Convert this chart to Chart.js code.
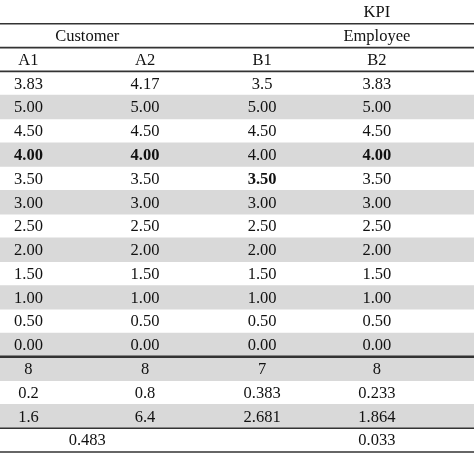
<!DOCTYPE html>
<html><head><meta charset="utf-8">
<script src="https://cdn.jsdelivr.net/npm/chart.js@4/dist/chart.umd.min.js"></script>
<style>html,body{margin:0;padding:0;background:#fff;}</style>
</head><body>
<canvas id="c" width="474" height="474"></canvas>
<script>
const rowLabels = ["KPI","Customer","Head","3.83","5.00","4.50","4.00","3.50","3.00","2.50","2.00","1.50","1.00","0.50","0.00","n","w","s","p"];
const shade = [null,null,null,null,1,null,1,null,1,null,1,null,1,null,1,1,null,1,null];
const colA1 = ["","","A1","3.83","5.00","4.50","4.00","3.50","3.00","2.50","2.00","1.50","1.00","0.50","0.00","8","0.2","1.6",""];
const colA2 = ["","","A2","4.17","5.00","4.50","4.00","3.50","3.00","2.50","2.00","1.50","1.00","0.50","0.00","8","0.8","6.4",""];
const colB1 = ["","","B1","3.5","5.00","4.50","4.00","3.50","3.00","2.50","2.00","1.50","1.00","0.50","0.00","7","0.383","2.681",""];
const colB2 = ["","","B2","3.83","5.00","4.50","4.00","3.50","3.00","2.50","2.00","1.50","1.00","0.50","0.00","8","0.233","1.864",""];
const spanLeft = ["","Customer","","","","","","","","","","","","","","","","","0.483"];
const spanRight = ["KPI","Employee","","","","","","","","","","","","","","","","","0.033"];
const boldA1 = [6], boldA2 = [6], boldB1 = [7], boldB2 = [6];
const ruleAfter = [0,1,2,14,17,18];
const thickRule = [14];

const tablePlugin = {
  id:'table',
  afterDatasetsDraw(chart){
    const ctx = chart.ctx, ys = chart.scales.y, area = chart.chartArea;
    const W = area.right - area.left;
    const step = ys.getPixelForValue(1) - ys.getPixelForValue(0);
    const cols = [[colA1,boldA1,0.06],[colA2,boldA2,0.306],[colB1,boldB1,0.553],[colB2,boldB2,0.795]];
    ctx.save();
    ctx.fillStyle = '#111';
    ctx.textBaseline = 'middle';
    ctx.textAlign = 'center';
    rowLabels.forEach((_, i) => {
      const y = ys.getPixelForValue(i) + 1;
      cols.forEach(([col,bold,fx]) => {
        if (!col[i]) return;
        ctx.font = (bold.includes(i) ? 'bold ' : '') + '16.5px "Liberation Serif"';
        ctx.fillText(col[i], area.left + fx*W, y);
      });
      ctx.font = '16.5px "Liberation Serif"';
      if (spanLeft[i]) ctx.fillText(spanLeft[i], area.left + 0.184*W, y);
      if (spanRight[i]) ctx.fillText(spanRight[i], area.left + 0.795*W, y);
    });
    ctx.strokeStyle = '#333';
    ruleAfter.forEach(i => {
      const y = ys.getPixelForValue(i) + step/2;
      ctx.lineWidth = thickRule.includes(i) ? 2.5 : 1.6;
      ctx.beginPath(); ctx.moveTo(area.left, y); ctx.lineTo(area.right, y); ctx.stroke();
    });
    ctx.restore();
  }
};

new Chart(document.getElementById('c'), {
  type:'bar',
  data:{ labels: rowLabels, datasets:[{ data: shade, backgroundColor:'#d9d9d9', borderWidth:0, barPercentage:1, categoryPercentage:1 }]},
  options:{
    indexAxis:'y', responsive:false, animation:false, devicePixelRatio:1,
    layout:{ padding:{ top:-2, bottom:22, left:0, right:0 } },
    plugins:{ legend:{display:false}, tooltip:{enabled:false} },
    scales:{ x:{ display:false, min:0, max:1 }, y:{ display:false } }
  },
  plugins:[tablePlugin]
});
</script>
</body></html>
